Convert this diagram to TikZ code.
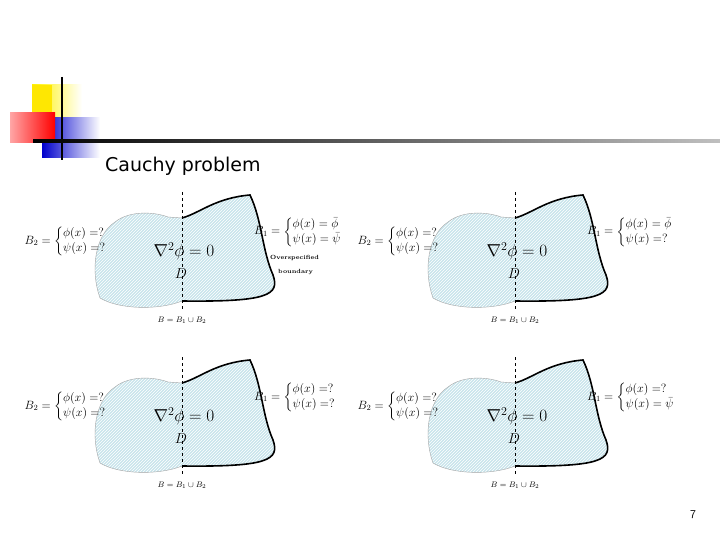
\documentclass[tikz,border=0pt]{standalone}
\usepackage{amsmath}
\usepackage{fontspec}
\newfontfamily\titlefont{DejaVu Sans}
\usetikzlibrary{patterns}
\definecolor{blobfill}{RGB}{200,228,236}
\tikzset{
  lbl/.style={inner sep=0pt,font=\fontsize{11.5}{13}\selectfont},
  eqn/.style={inner sep=0pt,font=\fontsize{18}{20}\selectfont},
  tiny/.style={inner sep=0pt,font=\fontsize{6}{7}\selectfont\bfseries},
}
\newcommand{\myblob}[5]{%
  \fill[blobfill] (182,218) .. controls (200,213) and (215,198) .. (250,195)
     .. controls (262,220) and (262,250) .. (273,275)
     .. controls (280,295) and (268,302) .. (182,301)
     .. controls (160,310) and (120,310) .. (100,298)
     .. controls (90,270) and (95,235) .. (115,222)
     .. controls (130,210) and (155,212) .. (168,217) -- cycle;
  \fill[pattern=north east lines,pattern color=white] (182,218) .. controls (200,213) and (215,198) .. (250,195)
     .. controls (262,220) and (262,250) .. (273,275)
     .. controls (280,295) and (268,302) .. (182,301)
     .. controls (160,310) and (120,310) .. (100,298)
     .. controls (90,270) and (95,235) .. (115,222)
     .. controls (130,210) and (155,212) .. (168,217) -- cycle;
  \draw[line width=1.6pt] (182,218) .. controls (200,213) and (215,198) .. (250,195)
     .. controls (262,220) and (262,250) .. (273,275)
     .. controls (280,295) and (268,302) .. (182,301);
  \draw[gray!70,line width=0.4pt] (182,301) .. controls (160,310) and (120,310) .. (100,298)
     .. controls (90,270) and (95,235) .. (115,222)
     .. controls (130,210) and (155,212) .. (168,217) -- (182,218);
  \coordinate (top#1) at (182,192);
  \coordinate (bot#1) at (182,311);
  \draw[dashed,line width=0.9pt] (top#1) -- (bot#1);
  \node[eqn] (lap#1) at (184,251) {$\nabla^2\phi=0$};
  \node[eqn,font=\fontsize{15}{16}\selectfont] (D#1) at (181,274) {$D$};
  \node[lbl,anchor=east] (Bb#1) at (118,241) {$B_2=\begin{cases}\phi(x)=#2\\ \psi(x)=#3\end{cases}$};
  \node[lbl,anchor=west] (Ba#1) at (254,232) {$B_1=\begin{cases}\phi(x)=#4\\ \psi(x)=#5\end{cases}$};
  \node[lbl,font=\fontsize{8.5}{9}\selectfont] (B#1) at (182,320) {$B=B_1\cup B_2$};
}
\begin{document}
\begin{tikzpicture}[x=1pt,y=-1pt]
\useasboundingbox (0,0) rectangle (720,540);
\fill[white] (0,0) rectangle (720,540);
% header decoration
\shade[left color=yellow!90!orange,right color=white] (32,85) rectangle (82,120);
\fill[yellow!90!orange] (32,85) rectangle (52,120);
\shade[left color=blue!80!black,right color=white] (42,118) rectangle (100,158);
\shade[left color=red!35!white,right color=red] (10,113) rectangle (55,143);
\coordinate (vt) at (62,77); \coordinate (vb) at (62,160);
\draw[line width=1.6pt] (vt) -- (vb);
\shade[left color=black,right color=gray!50] (33,140) rectangle (720,142.2);
\node[anchor=base west,inner sep=0pt,font=\titlefont\fontsize{19}{21}\selectfont] (title) at (105,172) {Cauchy problem};
% panels
\myblob{a}{?}{?}{\bar{\phi}}{\bar{\psi}}
\node[tiny,anchor=west] (ov) at (270,258) {Overspecified};
\node[tiny,anchor=west] (bd) at (278,272) {boundary};
\begin{scope}[shift={(333,0)}]
\myblob{b}{?}{?}{\bar{\phi}}{?}
\end{scope}
\begin{scope}[shift={(0,165)}]
\myblob{c}{?}{?}{?}{?}
\end{scope}
\begin{scope}[shift={(333,165)}]
\myblob{d}{?}{?}{?}{\bar{\psi}}
\end{scope}
\node[inner sep=0pt,font=\fontsize{12}{13}\selectfont\sffamily] (pg) at (693,515) {7};
\end{tikzpicture}
\end{document}
